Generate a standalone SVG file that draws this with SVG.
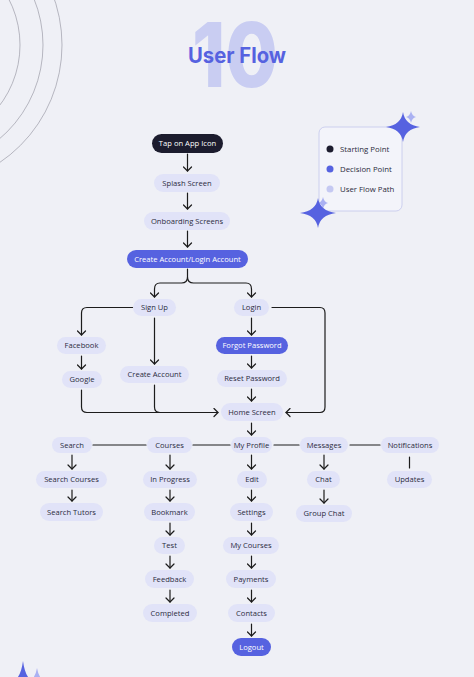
<svg xmlns="http://www.w3.org/2000/svg" width="474" height="677" viewBox="0 0 474 677">
<defs>
<style>
.bg{fill:#eff0f6}
.arc{fill:none;stroke:#9c9ca8;stroke-width:0.7}
.n rect{fill:#e1e3f8}
.n text{font-family:"Open Sans","Noto Sans",sans-serif;font-size:7.6px;font-weight:500;fill:#2b2b3d;text-anchor:middle}
.d rect{fill:#1c1c2e}
.b rect{fill:#5662e0}
.d text,.b text{fill:#ffffff}
.c path{fill:none;stroke:#1c1c1c;stroke-width:1.2;stroke-linecap:round;stroke-linejoin:round}
.a{marker-end:url(#ah)}
.lg text{font-family:"Open Sans","Noto Sans",sans-serif;font-size:7.8px;font-weight:500;fill:#2b2b3d}
.star{fill:#5662e0}
.star2{fill:#aab1f2}
</style>
<marker id="ah" markerUnits="userSpaceOnUse" markerWidth="10" markerHeight="10" refX="5" refY="5" orient="auto">
<path d="M1,1 L5,5 L1,9" fill="none" stroke="#1c1c1c" stroke-width="1.2" stroke-linecap="round" stroke-linejoin="round"/>
</marker>
</defs>
<rect class="bg" x="0" y="0" width="474" height="677"/>
<g id="decor">
<circle class="arc" cx="-80" cy="45" r="100"/>
<circle class="arc" cx="-80" cy="45" r="123"/>
<circle class="arc" cx="-80" cy="45" r="142"/>
<path class="star" d="M23,661 Q25,676 31,680 Q25,684 23,700 Q21,684 15,680 Q21,676 23,661Z"/>
<path class="star2" d="M37,668 Q38.5,677 43,680 Q38.5,683 37,693 Q35.5,683 31,680 Q35.5,677 37,668Z"/>
</g>
<g id="title">
<text x="235" y="87" font-family="Inter,'Open Sans',sans-serif" font-weight="800" font-size="90" fill="#c9cdf2" text-anchor="middle" textLength="86" lengthAdjust="spacingAndGlyphs">10</text>
<text x="237" y="63" font-family="Inter,'Open Sans',sans-serif" font-weight="700" font-size="21" fill="#5662e0" text-anchor="middle" textLength="98" lengthAdjust="spacingAndGlyphs">User Flow</text>
</g>
<g id="legend" class="lg">
<rect x="319" y="127" width="83" height="84" rx="6" fill="#f3f4fa" stroke="#c3c7ec" stroke-width="0.8"/>
<circle cx="330" cy="149" r="3.5" fill="#1c1c2e"/>
<circle cx="330" cy="169" r="3.5" fill="#5662e0"/>
<circle cx="330" cy="189" r="3.5" fill="#c5c9f2"/>
<text x="340" y="152">Starting Point</text>
<text x="340" y="172">Decision Point</text>
<text x="340" y="192">User Flow Path</text>
<path class="star2" d="M411,111 Q412,116 416,117 Q412,118 411,123 Q410,118 406,117 Q410,116 411,111Z"/>
<path class="star" d="M403,112 Q405,125 420,127 Q405,129 403,142 Q401,129 386,127 Q401,125 403,112Z"/>
<path class="star2" d="M323,197 Q324,202 328,203 Q324,204 323,209 Q322,204 318,203 Q322,202 323,197Z"/>
<path class="star" d="M318,198 Q320,211 336,213 Q320,215 318,228 Q316,215 300,213 Q316,211 318,198Z"/>
</g>
<g id="connectors" class="c">
<path class="a" d="M187.5,154 V171"/>
<path class="a" d="M187.5,193 V209"/>
<path class="a" d="M187.5,231 V247"/>
<path d="M187.5,269 V277 Q187.5,283 181.5,283 H160 Q154.5,283 154.5,289"/>
<path class="a" d="M154.5,289 V297"/>
<path d="M187.5,277 Q187.5,283 193.5,283 H246 Q251.5,283 251.5,289"/>
<path class="a" d="M251.5,289 V297"/>
<path d="M133,307.5 H87 Q81.5,307.5 81.5,313"/>
<path class="a" d="M81.5,313 V335"/>
<path class="a" d="M154.5,318 V364"/>
<path class="a" d="M251.5,318 V335"/>
<path d="M272,307.5 H320 Q325,307.5 325,313 V407 Q325,412.5 320,412.5"/>
<path class="a" d="M320,412.5 H286"/>
<path class="a" d="M81.5,356 V369"/>
<path d="M81.5,390 V407 Q81.5,412.5 87,412.5"/>
<path class="a" d="M87,412.5 H218"/>
<path d="M154.5,385 V407 Q154.5,412.5 160,412.5"/>
<path class="a" d="M251.5,356 V368"/>
<path class="a" d="M251.5,389 V401"/>
<path class="a" d="M251.5,423 V435"/>
<path d="M93,445 H146"/>
<path d="M193,445 H230"/>
<path d="M274,445 H299"/>
<path d="M350,445 H380"/>
<path class="a" d="M72,455 V469"/>
<path class="a" d="M72,490 V501"/>
<path class="a" d="M170,455 V469"/>
<path class="a" d="M170,490 V501"/>
<path class="a" d="M170,523 V535"/>
<path class="a" d="M170,556 V568"/>
<path class="a" d="M170,590 V602"/>
<path class="a" d="M251.5,455 V469"/>
<path class="a" d="M251.5,490 V501"/>
<path class="a" d="M251.5,523 V535"/>
<path class="a" d="M251.5,556 V568"/>
<path class="a" d="M251.5,590 V602"/>
<path class="a" d="M251.5,624 V636"/>
<path class="a" d="M324,455 V469"/>
<path class="a" d="M324,490 V503"/>
<path d="M409.5,457 V468"/>
</g>
<g id="n-tap" class="n d"><rect x="152" y="134" width="71" height="19" rx="9.5"/><text x="187.5" y="146.2">Tap on App Icon</text></g>
<g id="n-splash" class="n"><rect x="154" y="174" width="66" height="18" rx="9"/><text x="187" y="185.7">Splash Screen</text></g>
<g id="n-onboard" class="n"><rect x="144" y="212" width="86" height="18" rx="9"/><text x="187" y="223.7">Onboarding Screens</text></g>
<g id="n-create-login" class="n b"><rect x="127" y="250" width="121" height="18" rx="9"/><text x="187.5" y="261.7">Create Account/Login Account</text></g>
<g id="n-signup" class="n"><rect x="133" y="299" width="43" height="17" rx="8.5"/><text x="154.5" y="310.2">Sign Up</text></g>
<g id="n-login" class="n"><rect x="234" y="299" width="35" height="17" rx="8.5"/><text x="251.5" y="310.2">Login</text></g>
<g id="n-facebook" class="n"><rect x="57" y="337" width="49" height="17" rx="8.5"/><text x="81.5" y="348.2">Facebook</text></g>
<g id="n-google" class="n"><rect x="62" y="371" width="40" height="17" rx="8.5"/><text x="82" y="382.2">Google</text></g>
<g id="n-create-account" class="n"><rect x="120" y="366" width="69" height="17" rx="8.5"/><text x="154.5" y="377.2">Create Account</text></g>
<g id="n-forgot" class="n b"><rect x="216" y="337" width="72" height="17" rx="8.5"/><text x="252" y="348.2">Forgot Password</text></g>
<g id="n-reset" class="n"><rect x="217" y="370" width="70" height="17" rx="8.5"/><text x="252" y="381.2">Reset Password</text></g>
<g id="n-home" class="n"><rect x="221" y="403" width="62" height="18" rx="9"/><text x="252" y="414.7">Home Screen</text></g>
<g id="n-search" class="n"><rect x="52" y="437" width="40" height="16" rx="8"/><text x="72" y="447.7">Search</text></g>
<g id="n-courses" class="n"><rect x="147" y="437" width="45" height="16" rx="8"/><text x="169.5" y="447.7">Courses</text></g>
<g id="n-profile" class="n"><rect x="231" y="437" width="41" height="16" rx="8"/><text x="251.5" y="447.7">My Profile</text></g>
<g id="n-messages" class="n"><rect x="300" y="437" width="48" height="16" rx="8"/><text x="324" y="447.7">Messages</text></g>
<g id="n-notifications" class="n"><rect x="381" y="437" width="58" height="16" rx="8"/><text x="410" y="447.7">Notifications</text></g>
<g id="n-search-courses" class="n"><rect x="36" y="471" width="71" height="17" rx="8.5"/><text x="71.5" y="482.2">Search Courses</text></g>
<g id="n-search-tutors" class="n"><rect x="40" y="503" width="63" height="18" rx="9"/><text x="71.5" y="514.7">Search Tutors</text></g>
<g id="n-inprogress" class="n"><rect x="143" y="471" width="54" height="17" rx="8.5"/><text x="170" y="482.2">In Progress</text></g>
<g id="n-bookmark" class="n"><rect x="144" y="503" width="51" height="18" rx="9"/><text x="169.5" y="514.7">Bookmark</text></g>
<g id="n-test" class="n"><rect x="154" y="537" width="31" height="17" rx="8.5"/><text x="169.5" y="548.2">Test</text></g>
<g id="n-feedback" class="n"><rect x="145" y="570" width="49" height="18" rx="9"/><text x="169.5" y="581.7">Feedback</text></g>
<g id="n-completed" class="n"><rect x="143" y="604" width="54" height="18" rx="9"/><text x="170" y="615.7">Completed</text></g>
<g id="n-edit" class="n"><rect x="237" y="471" width="30" height="17" rx="8.5"/><text x="252" y="482.2">Edit</text></g>
<g id="n-settings" class="n"><rect x="230" y="503" width="43" height="18" rx="9"/><text x="251.5" y="514.7">Settings</text></g>
<g id="n-mycourses" class="n"><rect x="223" y="537" width="56" height="17" rx="8.5"/><text x="251" y="548.2">My Courses</text></g>
<g id="n-payments" class="n"><rect x="226" y="570" width="50" height="18" rx="9"/><text x="251" y="581.7">Payments</text></g>
<g id="n-contacts" class="n"><rect x="228" y="604" width="47" height="18" rx="9"/><text x="251.5" y="615.7">Contacts</text></g>
<g id="n-logout" class="n b"><rect x="232" y="638" width="39" height="18" rx="9"/><text x="251.5" y="649.7">Logout</text></g>
<g id="n-chat" class="n"><rect x="307" y="471" width="33" height="17" rx="8.5"/><text x="323.5" y="482.2">Chat</text></g>
<g id="n-groupchat" class="n"><rect x="296" y="505" width="56" height="17" rx="8.5"/><text x="324" y="516.2">Group Chat</text></g>
<g id="n-updates" class="n"><rect x="387" y="471" width="45" height="17" rx="8.5"/><text x="409.5" y="482.2">Updates</text></g>
</svg>
